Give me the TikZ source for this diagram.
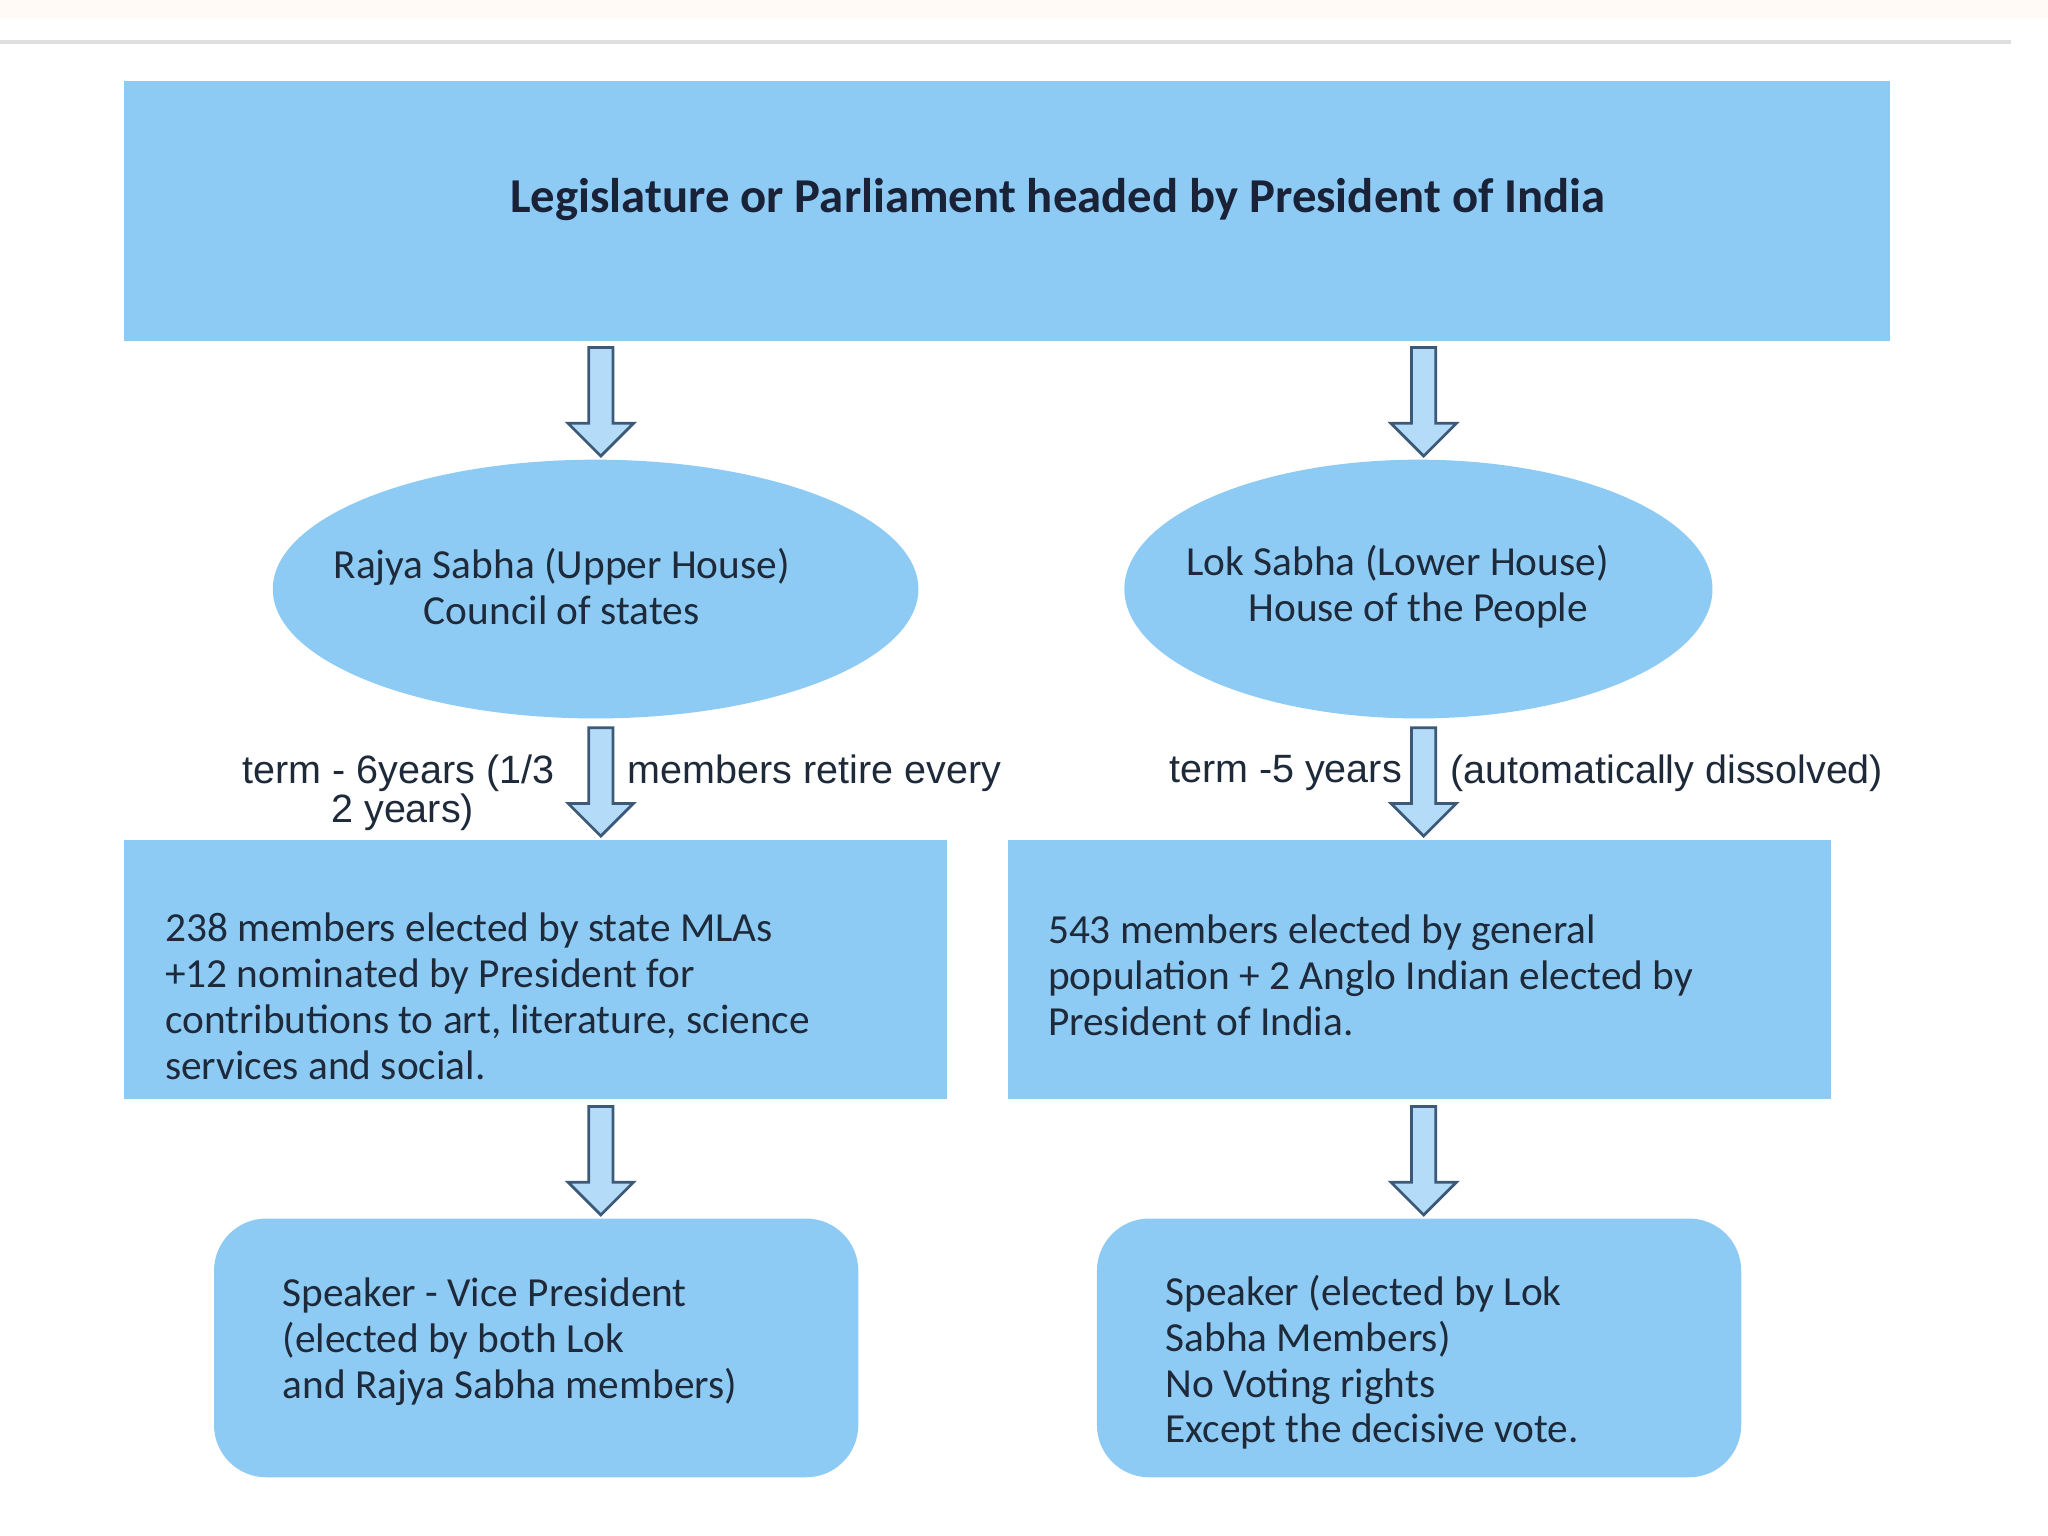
\documentclass[tikz,border=0pt]{standalone}
\usepackage{fontspec}
\setmainfont{Carlito}
\newfontfamily\arialish{Liberation Sans}
\usetikzlibrary{shapes.geometric,shapes.arrows}
\definecolor{boxblue}{HTML}{8DCBF5}
\definecolor{arrowblue}{HTML}{B4DCF8}
\definecolor{arrowline}{HTML}{3C5A78}
\definecolor{titleink}{HTML}{1A2238}
\definecolor{textink}{HTML}{1E2A3A}
\tikzset{
    panel/.style={rectangle,fill=boxblue,draw=none,inner sep=0pt},
    house/.style={ellipse,fill=boxblue,draw=none,inner sep=0pt},
    office/.style={rectangle,rounded corners=0.4cm,fill=boxblue,draw=none,inner sep=0pt},
    blockarrow/.style={single arrow,shape border rotate=270,fill=arrowblue,draw=arrowline,
        line width=0.6pt,minimum height=0.83cm,minimum width=0.5cm,
        single arrow head extend=0.12cm,single arrow head indent=0pt,inner sep=0.06cm},
    body/.style={font=\fontsize{9}{10}\selectfont,text=textink,align=left},
    termlabel/.style={font=\arialish\fontsize{8.6}{9.6}\selectfont,text=textink,inner sep=0pt},
}
\begin{document}
\begin{tikzpicture}[x=0.01cm,y=-0.01cm]
    \useasboundingbox (0,0) rectangle (1568,1176);
    \fill[white] (0,0) rectangle (1568,1176);
    \fill[orange!4] (0,0) rectangle (1568,14);
    \draw[gray!25,line width=0.8pt] (0,32) -- (1540,32);
    % boxes
    \node[panel,minimum width=13.52cm,minimum height=1.99cm] (parl) at (771,161.5) {};
    \node[font=\bfseries\fontsize{10.6}{12}\selectfont,text=titleink] (title) at (810,153)
        {Legislature or Parliament headed by President of India};
    \node[house,minimum width=4.94cm,minimum height=1.98cm] (rajya) at (456,451) {};
    \node[house,minimum width=4.5cm,minimum height=1.98cm] (lok) at (1086,451) {};
    \node[body,align=center] at (430,449) {Rajya Sabha (Upper House)\\Council of states};
    \node[body,align=center] at (1070,449) {Lok Sabha (Lower House)\\\quad House of the People};
    \node[panel,minimum width=6.3cm,minimum height=1.98cm] (rsmem) at (410,742) {};
    \node[panel,minimum width=6.3cm,minimum height=1.98cm] (lsmem) at (1087,742) {};
    \node[body,anchor=west] at (114,763) {238 members elected by state MLAs\\+12 nominated by President for\\contributions to art, literature, science\\services and social.};
    \node[body,anchor=west] at (790,747) {543 members elected by general\\population + 2 Anglo Indian elected by\\President of India.};
    \node[office,minimum width=4.93cm,minimum height=1.98cm] (rsspk) at (410.5,1032) {};
    \node[office,minimum width=4.93cm,minimum height=1.98cm] (lsspk) at (1086.5,1032) {};
    \node[body,anchor=west] at (204,1027) {Speaker - Vice President\\(elected by both Lok\\and Rajya Sabha members)};
    \node[body,anchor=west] at (880,1043) {Speaker (elected by Lok\\Sabha Members)\\No Voting rights\\Except the decisive vote.};
    % term labels
    \node[termlabel,anchor=west] at (185,592) {term - 6years (1/3};
    \node[termlabel,anchor=west] at (480,592) {members retire every};
    \node[termlabel,anchor=west] at (253,622) {2 years)};
    \node[termlabel,anchor=east] at (1074,592) {term -5 years};
    \node[termlabel,anchor=west] at (1110,592) {(automatically dissolved)};
    % arrows
    \foreach \ax/\name in {460/a, 1090/b} {
        \node[blockarrow] (top\name) at (\ax,303) {};
        \node[blockarrow] (mid\name) at (\ax,594) {};
        \node[blockarrow] (low\name) at (\ax,884) {};
    }
\end{tikzpicture}
\end{document}
